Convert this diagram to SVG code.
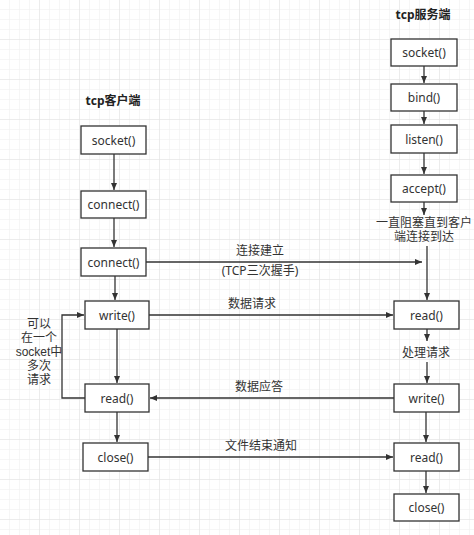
<svg xmlns="http://www.w3.org/2000/svg" width="474" height="535" viewBox="0 0 474 535">
<defs>
<pattern id="minor" width="10" height="10" patternUnits="userSpaceOnUse" x="-1" y="-1">
<path d="M10 0H0V10" fill="none" stroke="#eeeeee" stroke-width="1"/>
</pattern>
<pattern id="major" width="40" height="40" patternUnits="userSpaceOnUse" x="-1" y="-1">
<path d="M40 0H0V40" fill="none" stroke="#e2e2e2" stroke-width="1"/>
</pattern>
<marker id="ah" markerWidth="8" markerHeight="8" refX="7" refY="4" orient="auto" markerUnits="userSpaceOnUse">
<path d="M0,1 L7,4 L0,7 Z" fill="#333"/>
</marker>
</defs>
<style>
.box{fill:#fff;stroke:#333;stroke-width:1.3}
.t{font-family:"Noto Sans","Noto Sans CJK SC",sans-serif;font-size:12px;fill:#333;text-anchor:middle;dominant-baseline:central}
.m{font-family:"Liberation Sans","Noto Sans CJK SC",sans-serif}
.title{font-weight:bold;fill:#222}
.c{fill:none;stroke:#333;stroke-width:1.3}
</style>
<rect width="474" height="535" fill="#fff"/>
<rect width="474" height="535" fill="url(#minor)"/>
<rect width="474" height="535" fill="url(#major)"/>

<text class="t title" x="113" y="100">tcp客户端</text>
<text class="t title" x="423" y="14">tcp服务端</text>

<g id="connectors">
<line class="c" x1="114" y1="154" x2="114" y2="190" marker-end="url(#ah)"/>
<line class="c" x1="114" y1="218" x2="114" y2="247" marker-end="url(#ah)"/>
<line class="c" x1="115" y1="276" x2="115" y2="300" marker-end="url(#ah)"/>
<line class="c" x1="117" y1="329" x2="117" y2="383" marker-end="url(#ah)"/>
<line class="c" x1="117" y1="412" x2="117" y2="442" marker-end="url(#ah)"/>
<polyline class="c" points="85,398 62,398 62,315 84,315" marker-end="url(#ah)"/>
<line class="c" x1="424" y1="66" x2="424" y2="83" marker-end="url(#ah)"/>
<line class="c" x1="424" y1="111" x2="424" y2="124" marker-end="url(#ah)"/>
<line class="c" x1="424" y1="153" x2="424" y2="174" marker-end="url(#ah)"/>
<line class="c" x1="424" y1="202" x2="424" y2="215" marker-end="url(#ah)"/>
<line class="c" x1="427" y1="246" x2="427" y2="300" marker-end="url(#ah)"/>
<line class="c" x1="427" y1="329" x2="427" y2="341" marker-end="url(#ah)"/>
<line class="c" x1="427" y1="362" x2="427" y2="383" marker-end="url(#ah)"/>
<line class="c" x1="426" y1="412" x2="426" y2="442" marker-end="url(#ah)"/>
<line class="c" x1="426" y1="471" x2="426" y2="493" marker-end="url(#ah)"/>
<line class="c" x1="146" y1="262" x2="422" y2="262" marker-end="url(#ah)"/>
<line class="c" x1="149" y1="315" x2="393" y2="315" marker-end="url(#ah)"/>
<line class="c" x1="394" y1="398" x2="150" y2="398" marker-end="url(#ah)"/>
<line class="c" x1="148" y1="457" x2="393" y2="457" marker-end="url(#ah)"/>
<text class="t" x="260" y="250">连接建立</text>
<text class="t" x="260" y="270">(TCP三次握手)</text>
<text class="t" x="252" y="303">数据请求</text>
<text class="t" x="259" y="386">数据应答</text>
<text class="t" x="261" y="445">文件结束通知</text>
<text class="t m" x="424" y="223">一直阻塞直到客户</text>
<text class="t m" x="424" y="237">端连接到达</text>
<text class="t" x="426" y="352">处理请求</text>
<text class="t m" x="39" y="324">可以</text>
<text class="t m" x="39" y="338">在一个</text>
<text class="t m" x="39" y="352">socket中</text>
<text class="t m" x="39" y="366">多次</text>
<text class="t m" x="39" y="380">请求</text>
</g>

<g id="c-socket"><rect class="box" x="81" y="126" width="65" height="28"/><text class="t" x="113.5" y="140">socket()</text></g>
<g id="c-connect1"><rect class="box" x="81" y="191" width="65" height="27"/><text class="t" x="113.5" y="204.5">connect()</text></g>
<g id="c-connect2"><rect class="box" x="81" y="248" width="65" height="28"/><text class="t" x="113.5" y="262">connect()</text></g>
<g id="c-write"><rect class="box" x="85" y="301" width="64" height="28"/><text class="t" x="117" y="315">write()</text></g>
<g id="c-read"><rect class="box" x="85" y="384" width="64" height="28"/><text class="t" x="117" y="398">read()</text></g>
<g id="c-close"><rect class="box" x="83" y="443" width="65" height="28"/><text class="t" x="115.5" y="457">close()</text></g>

<g id="s-socket"><rect class="box" x="391" y="39" width="66" height="27"/><text class="t" x="424" y="52.5">socket()</text></g>
<g id="s-bind"><rect class="box" x="391" y="84" width="66" height="27"/><text class="t" x="424" y="97.5">bind()</text></g>
<g id="s-listen"><rect class="box" x="391" y="125" width="66" height="28"/><text class="t" x="424" y="139">listen()</text></g>
<g id="s-accept"><rect class="box" x="391" y="175" width="66" height="27"/><text class="t" x="424" y="188.5">accept()</text></g>
<g id="s-read1"><rect class="box" x="394" y="301" width="65" height="28"/><text class="t" x="426.5" y="315">read()</text></g>
<g id="s-write"><rect class="box" x="394" y="384" width="65" height="28"/><text class="t" x="426.5" y="398">write()</text></g>
<g id="s-read2"><rect class="box" x="394" y="443" width="65" height="28"/><text class="t" x="426.5" y="457">read()</text></g>
<g id="s-close"><rect class="box" x="394" y="494" width="65" height="27"/><text class="t" x="426.5" y="507.5">close()</text></g>
</svg>
